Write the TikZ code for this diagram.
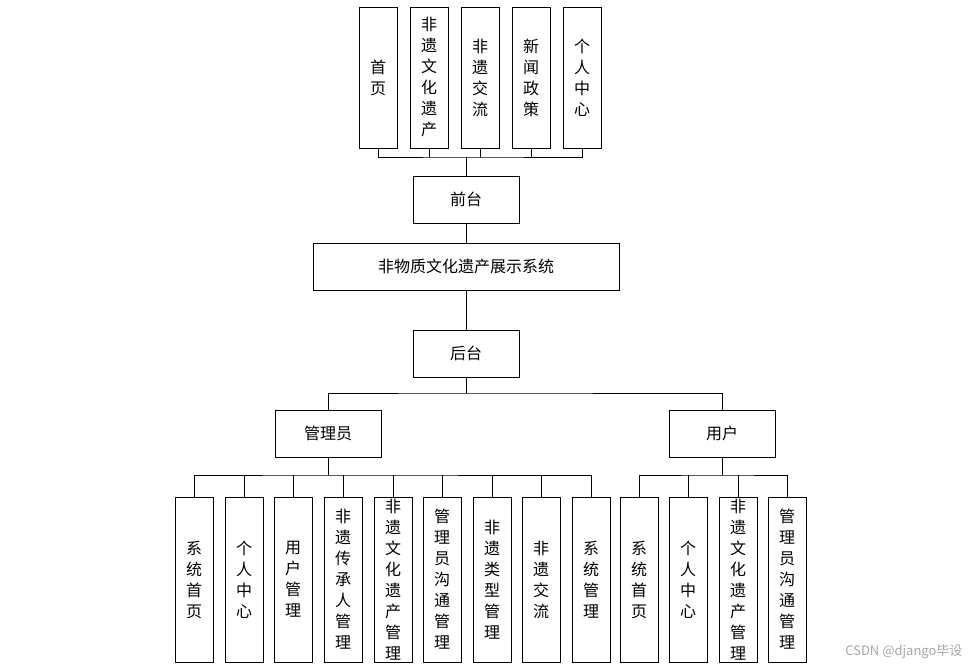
\documentclass[tikz,border=0pt]{standalone}
\usepackage{fontspec}
\setmainfont{Noto Sans CJK SC}
\begin{document}
\begin{tikzpicture}[x=1pt,y=-1pt,
 bx/.style={draw,thick,inner sep=0pt,font=\fontsize{16}{21}\selectfont},
 vb/.style={bx,minimum width=38pt,minimum height=165pt,text width=18pt,align=center},
 tb/.style={bx,minimum width=38pt,minimum height=141pt,text width=18pt,align=center},
 hb/.style={bx,minimum width=106pt,minimum height=47pt},
 ln/.style={thick}]
\useasboundingbox (0,0) rectangle (969,670);
% top
\foreach \n/\x/\t in {t1/378/首\\页,t2/429/非\\遗\\文\\化\\遗\\产,t3/480/非\\遗\\交\\流,t4/531/新\\闻\\政\\策,t5/582/个\\人\\中\\心}
  \node[tb] (\n) at (\x,77.5) {\t};
\node[hb] (qt) at (466,199.5) {前台};
\node[bx,minimum width=306pt,minimum height=47pt] (sys) at (466,266.5) {非物质文化遗产展示系统};
\node[hb] (ht) at (466,353.5) {后台};
\node[hb] (adm) at (328,433.5) {管理员};
\node[hb] (usr) at (722,433.5) {用户};
\foreach \n/\x/\t in {a1/194/系\\统\\首\\页,a2/244/个\\人\\中\\心,a3/293/用\\户\\管\\理,a4/343/非\\遗\\传\\承\\人\\管\\理,a5/393/非\\遗\\文\\化\\遗\\产\\管\\理,a6/442/管\\理\\员\\沟\\通\\管\\理,a7/492/非\\遗\\类\\型\\管\\理,a8/541/非\\遗\\交\\流,a9/591/系\\统\\管\\理,u1/639/系\\统\\首\\页,u2/688/个\\人\\中\\心,u3/738/非\\遗\\文\\化\\遗\\产\\管\\理,u4/787/管\\理\\员\\沟\\通\\管\\理}
  \node[vb] (\n) at (\x,579.5) {\t};
\coordinate (b1) at (466,157);
\draw[ln] (t1.south) |- (b1) -| (t5.south);
\foreach \n in {t2,t3,t4} \draw[ln] (\n.south) -- (\n.south |- b1);
\draw[ln] (b1) -- (qt.north);
\draw[ln] (qt) -- (sys) -- (ht);
\coordinate (b2) at (466,393);
\draw[ln] (ht.south) -- (b2);
\draw[ln] (adm.north) |- (b2) -| (usr.north);
\coordinate (b3) at (328,475);
\draw[ln] (adm.south) -- (b3);
\draw[ln] (a1.north) |- (b3) -| (a9.north);
\foreach \n in {a2,a3,a4,a5,a6,a7,a8} \draw[ln] (\n.north) -- (\n.north |- b3);
\coordinate (b4) at (722,475);
\draw[ln] (usr.south) -- (b4);
\draw[ln] (u1.north) |- (b4) -| (u4.north);
\foreach \n in {u2,u3} \draw[ln] (\n.north) -- (\n.north |- b4);
\node[text=gray!70,font=\fontsize{13}{13}\selectfont,anchor=east] (wm) at (966,652) {CSDN @django毕设};
\end{tikzpicture}
\end{document}
